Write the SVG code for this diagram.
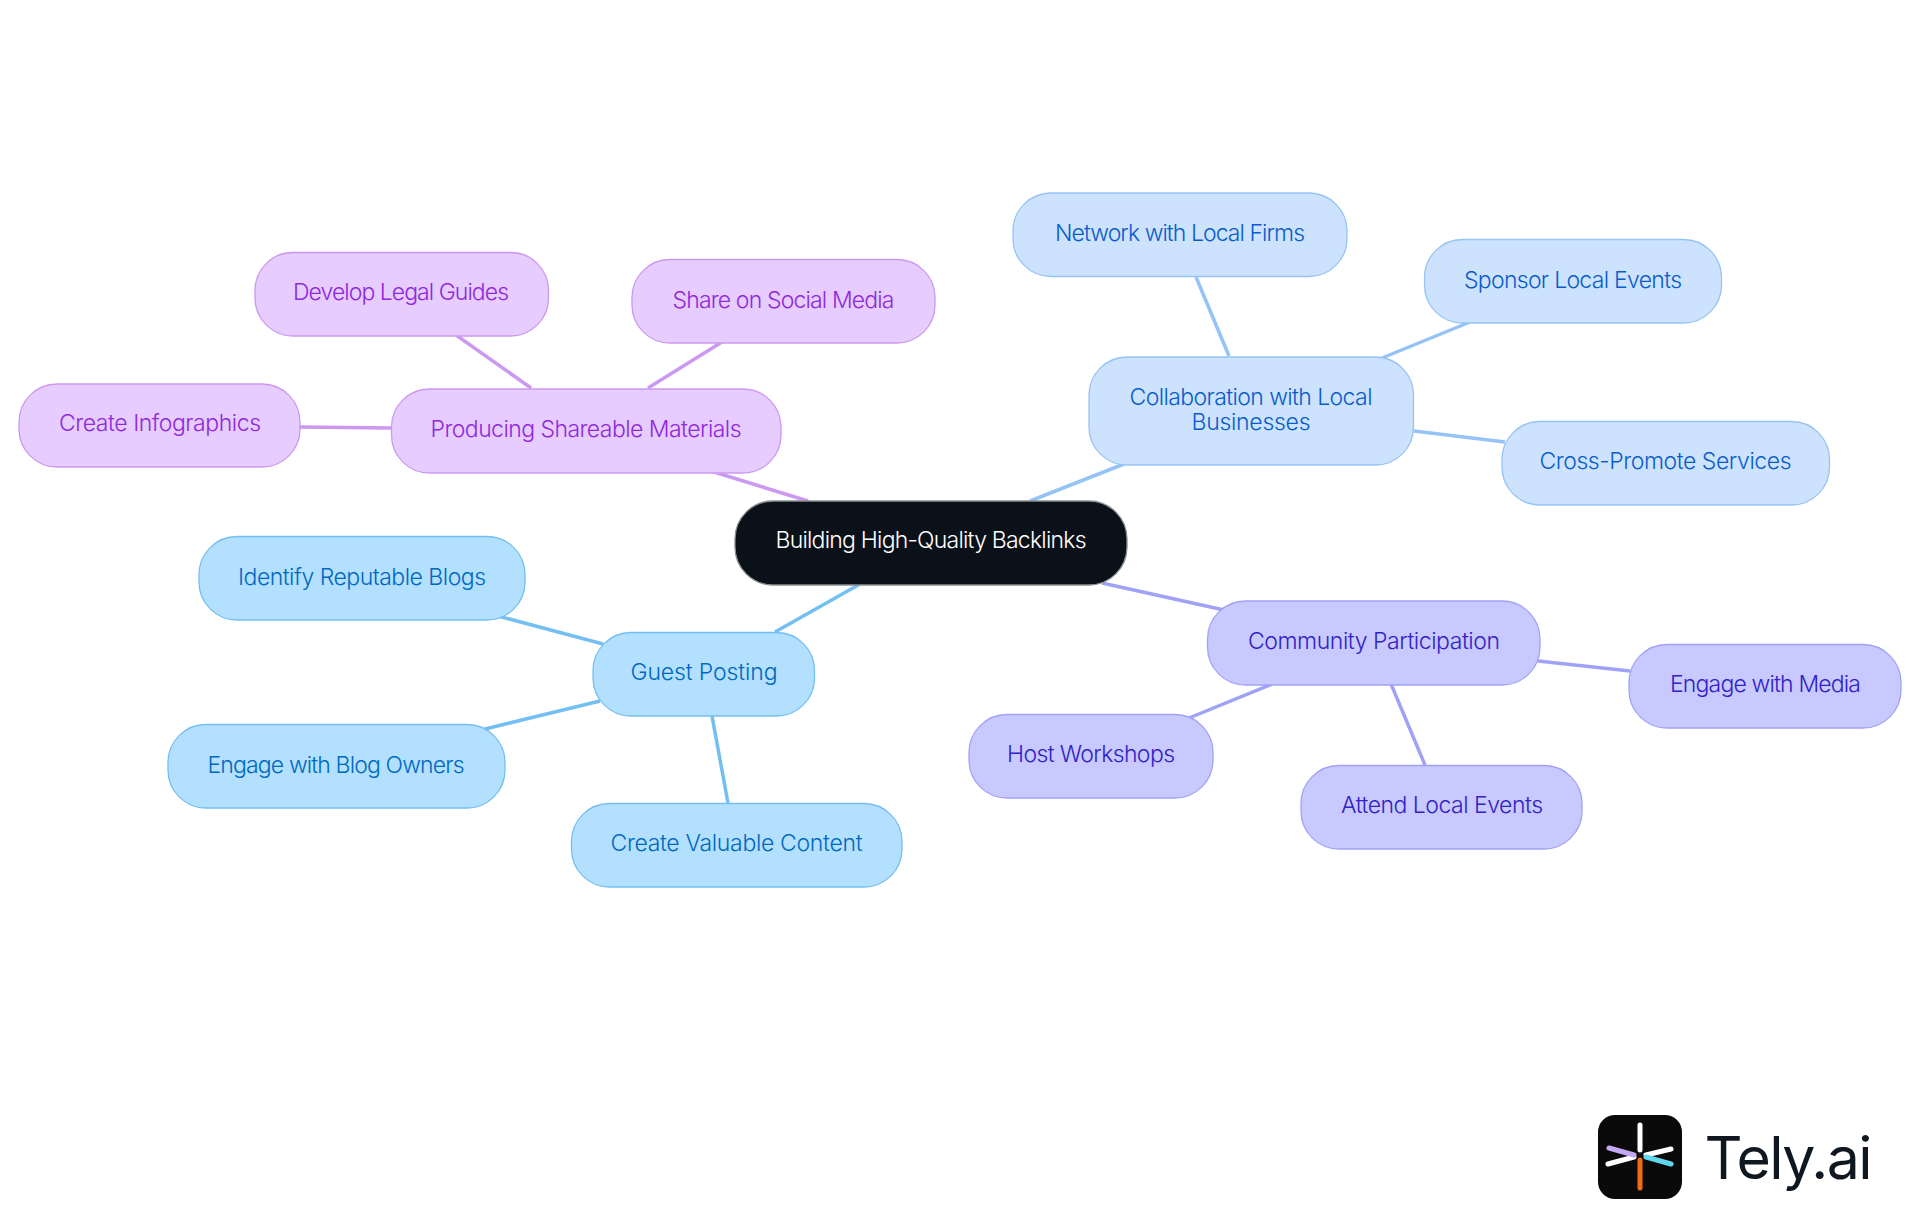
<svg xmlns="http://www.w3.org/2000/svg" width="1920" height="1215" viewBox="0 0 1920 1215">
<style>
text{font-family:"Inter","Noto Sans","Liberation Sans",sans-serif;font-size:23px;font-weight:300;text-anchor:middle}
.n{stroke-width:1.3}
.c{fill:none;stroke-width:3.5}
.pu rect{fill:#e6ccff;stroke:#cc99f0}.pu text{fill:#9028dc}
.sk rect{fill:#b3e0ff;stroke:#74bff2}.sk text{fill:#0069bf}
.bl rect{fill:#cde3fd;stroke:#96c3f5}.bl text{fill:#0a5ccc}
.in rect{fill:#c8c9fe;stroke:#a0a3f5}.in text{fill:#3122c6}
</style>
<rect width="1920" height="1215" fill="#fff"/>
<g id="connectors">
<path class="c" stroke="#cc99f0" d="M714 472L808 501M531 388L456 335M648 388L722 342M391 428L300 427"/>
<path class="c" stroke="#96c3f5" d="M1030 501L1124 464M1229 356L1196 277M1382 358L1470 322M1414 431L1505 442"/>
<path class="c" stroke="#a0a3f5" d="M1102 583L1224 610M1538 661L1630 671M1272 684L1189 718M1391 684L1425 765"/>
<path class="c" stroke="#74bff2" d="M860 584L775 632M603 644L498 616M600 701L485 729M712 716L728 803"/>
</g>
<g id="root"><rect x="735" y="501" width="392" height="84" rx="38" fill="#0b1119" stroke="#8a8e93" stroke-width="1.3"/><text x="931" y="548" fill="#fff" textLength="311">Building High-Quality Backlinks</text></g>
<g id="producing" class="pu"><rect class="n" x="391.500" y="389" width="389.500" height="84" rx="38"/><text x="586" y="437" textLength="311">Producing Shareable Materials</text></g>
<g id="legal" class="pu"><rect class="n" x="255" y="252.500" width="293.500" height="83.500" rx="38"/><text x="401" y="300" textLength="216">Develop Legal Guides</text></g>
<g id="social" class="pu"><rect class="n" x="632" y="259.500" width="303" height="83.500" rx="38"/><text x="783.500" y="308" textLength="222">Share on Social Media</text></g>
<g id="infographics" class="pu"><rect class="n" x="19" y="384" width="281" height="83" rx="38"/><text x="160" y="431" textLength="202">Create Infographics</text></g>
<g id="collab" class="bl"><rect class="n" x="1089" y="357" width="324.500" height="108" rx="38"/><text x="1251" y="405" textLength="243">Collaboration with Local</text><text x="1251" y="430" textLength="119">Businesses</text></g>
<g id="network" class="bl"><rect class="n" x="1013" y="193" width="334" height="83.500" rx="38"/><text x="1180" y="241" textLength="250">Network with Local Firms</text></g>
<g id="sponsor" class="bl"><rect class="n" x="1424.500" y="239.500" width="297" height="83.500" rx="38"/><text x="1573" y="288" textLength="218">Sponsor Local Events</text></g>
<g id="cross" class="bl"><rect class="n" x="1502" y="421.500" width="327.500" height="83.500" rx="38"/><text x="1665.500" y="469" textLength="252">Cross-Promote Services</text></g>
<g id="community" class="in"><rect class="n" x="1207.500" y="601" width="332.500" height="84" rx="38"/><text x="1374" y="649" textLength="252">Community Participation</text></g>
<g id="media" class="in"><rect class="n" x="1629" y="644.500" width="272" height="83.500" rx="38"/><text x="1765.500" y="692" textLength="191">Engage with Media</text></g>
<g id="workshops" class="in"><rect class="n" x="969" y="714.500" width="244" height="83.500" rx="38"/><text x="1091" y="762" textLength="168">Host Workshops</text></g>
<g id="attend" class="in"><rect class="n" x="1301" y="765.500" width="281" height="83.500" rx="38"/><text x="1442" y="813" textLength="202">Attend Local Events</text></g>
<g id="guest" class="sk"><rect class="n" x="593" y="632.500" width="221.500" height="83.500" rx="38"/><text x="704" y="680" textLength="147">Guest Posting</text></g>
<g id="blogs" class="sk"><rect class="n" x="199" y="536.500" width="326" height="83.500" rx="38"/><text x="362" y="585" textLength="248">Identify Reputable Blogs</text></g>
<g id="owners" class="sk"><rect class="n" x="168" y="724.500" width="337" height="83.500" rx="38"/><text x="336" y="773" textLength="257">Engage with Blog Owners</text></g>
<g id="content" class="sk"><rect class="n" x="571.500" y="803.500" width="330.500" height="83.500" rx="38"/><text x="736.500" y="851" textLength="252">Create Valuable Content</text></g>
<g id="logo">
<rect x="1598" y="1115" width="84" height="84" rx="17" fill="#0a0a0a"/>
<g fill="none" stroke-width="5" stroke-linecap="round">
<path stroke="#fff" d="M1640 1125V1150M1671 1149L1646 1155M1608 1164L1634 1157"/>
<path stroke="#c4a8f5" d="M1609 1148L1634 1155"/>
<path stroke="#5fd8ee" d="M1646 1157L1671 1164"/>
<path stroke="#f26a12" d="M1640 1160V1188"/>
</g>
<text x="1788.500" y="1179" style="font-size:59px;font-weight:400" fill="#0f1720" textLength="168">Tely.ai</text>
</g>
</svg>
